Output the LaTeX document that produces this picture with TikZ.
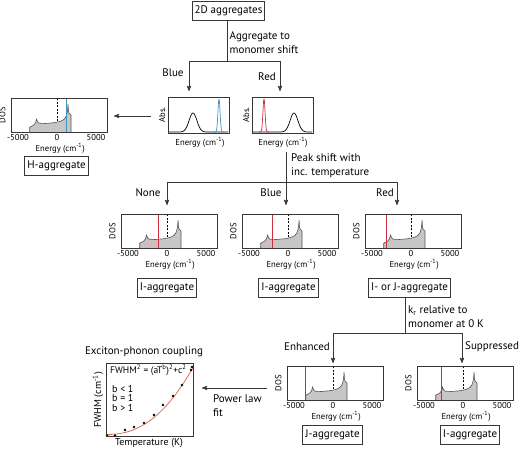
\documentclass[tikz,border=0pt]{standalone}
\usepackage{fontspec}
\setmainfont{PT Sans}
\usetikzlibrary{arrows,positioning,shapes}
\definecolor{lncol}{RGB}{55,55,55}
\definecolor{dosgray}{RGB}{198,198,198}
\definecolor{dospink}{RGB}{208,190,191}
\definecolor{redln}{RGB}{205,45,65}
\definecolor{blueln}{RGB}{70,145,195}
\definecolor{fitcol}{RGB}{225,110,80}
\tikzset{
    %Define standard arrow tip
    >=stealth',
    %Define style for boxes
    box/.style={
           rectangle,
           draw=lncol, line width=0.9pt,
           inner sep=2.5pt,
           minimum height=19pt,
           font=\fontsize{11}{13}\selectfont},
    % Define arrow style
    arr/.style={
           ->,
           draw=lncol,
           line width=0.9pt},
    conn/.style={
           draw=lncol,
           line width=0.9pt},
    lbl/.style={
           font=\fontsize{11}{14}\selectfont,
           align=left,
           inner sep=0pt},
    ticklbl/.style={
           font=\fontsize{8.6}{10}\selectfont,
           align=left,
           inner sep=0pt},
    smalllbl/.style={
           font=\fontsize{10}{10}\selectfont,
           align=left,
           inner sep=0pt},
    frm/.style={
           draw=lncol,
           line width=0.8pt},
    dosln/.style={
           draw=lncol!85,
           line width=0.6pt},
    zeroln/.style={
           draw=black,
           line width=0.7pt,
           dash pattern=on 2pt off 1.5pt}
}
% density of states curve, in plot units
\newcommand{\doscurve}[1]{#1 (-3.5,0) -- (-3.5,0.14) -- (-3.0,0.2) -- (-2.75,0.27) -- (-2.62,0.38) -- (-2.5,0.3) -- (-2.3,0.26) -- (-1.5,0.25) -- (-0.5,0.27) -- (0,0.29) -- (0.5,0.32) -- (0.9,0.37) -- (1.15,0.45) -- (1.3,0.56) -- (1.38,0.7) -- (1.42,0.82) -- (1.47,0.62) -- (1.55,0.55) -- (1.8,0.5) -- (1.8,0);}
% frame and axis labels of a DOS plot
\newcommand{\dosaxes}{
    \draw[frm] (-5.9,0) rectangle (6.4,1);
    \node[ticklbl] at (-5,-0.16) {-5000};
    \node[ticklbl] at (0,-0.16) {0};
    \node[ticklbl] at (5,-0.16) {5000};
    \node[ticklbl] at (0.4,-0.47) {Energy (cm\textsuperscript{-1})};
    \node[ticklbl, rotate=90] at (-7,0.5) {DOS};
}

\begin{document}
\begin{tikzpicture}[x=1pt, y=-1pt]
    \useasboundingbox (0,0) rectangle (520,449);

    % AGGREGATE TO MONOMER SHIFT
    \node[box] (agg2d) at (228.5,10.5) {2D aggregates};
    \coordinate (shift1) at (227,61);
    \coordinate (blueIn) at (189,91);
    \coordinate (redIn) at (280,91);
    \draw[conn] (agg2d.south -| shift1) -- (shift1);
    \draw[arr] (shift1) -| (blueIn);
    \draw[arr] (shift1) -| (redIn);
    \node[lbl, anchor=west] (shiftLbl) at (229.5,43) {Aggregate to\\monomer shift};
    \node[lbl] (blueLbl) at (173,73) {Blue};
    \node[lbl] (redLbl) at (267,77) {Red};

    % absorption spectra
    \draw[dosln, draw=black, line width=0.7pt] plot[domain=169:228, samples=80] (\x, {132-19*exp(-((\x-193)/5.5)^2)});
    \draw[blueln, line width=0.7pt] plot[domain=214:224, samples=40] (\x, {132-33*exp(-((\x-219)/1.5)^2)});
    \draw[frm] (168,97) rectangle (229,133);
    \node[ticklbl, rotate=90] (absLbl1) at (162,115) {Abs.};
    \node[ticklbl] (absE1) at (200,142) {Energy (cm\textsuperscript{-1})};
    \draw[dosln, draw=black, line width=0.7pt] plot[domain=253:312, samples=80] (\x, {132-19*exp(-((\x-294)/5.5)^2)});
    \draw[redln, line width=0.7pt] plot[domain=259:269, samples=40] (\x, {132-33*exp(-((\x-264)/1.5)^2)});
    \draw[frm] (252,97) rectangle (313,133);
    \node[ticklbl, rotate=90] (absLbl2) at (246,115) {Abs.};
    \node[ticklbl] (absE2) at (283,142) {Energy (cm\textsuperscript{-1})};

    % H-AGGREGATE
    \coordinate (absOut) at (151,116);
    \coordinate (hIn) at (114,116);
    \draw[arr] (absOut) -- (hIn);
    \begin{scope}[shift={(57,132)}, x=7.8pt, y=34pt]
        \draw[zeroln] (0,0) -- (0,1);
        \doscurve{\fill[dosgray]}
        \doscurve{\draw[dosln]}
        \draw[blueln, line width=0.8pt] (1.15,0) -- (1.15,1);
        \dosaxes
    \end{scope}
    \node[box] (hagg) at (56.5,166) {H-aggregate};

    % PEAK SHIFT WITH TEMPERATURE
    \coordinate (peakTop) at (286,152);
    \coordinate (shift2) at (286,182);
    \coordinate (noneIn) at (167,205);
    \coordinate (blue2In) at (286,205);
    \coordinate (red2In) at (397,205);
    \draw[arr] (peakTop) -- (blue2In);
    \draw[arr] (shift2) -| (noneIn);
    \draw[arr] (shift2) -| (red2In);
    \node[lbl, anchor=west] (peakLbl) at (291,165.5) {Peak shift with\\inc. temperature};
    \node[lbl] (noneLbl) at (148,193) {None};
    \node[lbl] (blue2Lbl) at (271,193) {Blue};
    \node[lbl] (red2Lbl) at (385,193) {Red};

    % DOS plots with red line
    \foreach \zx/\by/\er in {167/248/-1.1, 288/248/-2.05, 411/248/-3.1, 333/400/-3.5, 463/400/-2.8}{
        \begin{scope}[shift={(\zx,\by)}, x=7.8pt, y=34pt]
            \draw[zeroln] (0,0) -- (0,1);
            \doscurve{\fill[dosgray]}
            \begin{scope}
                \clip (-6,0) rectangle (\er,1);
                \doscurve{\fill[dospink]}
            \end{scope}
            \doscurve{\draw[dosln]}
            \draw[redln, line width=0.8pt] (\er,0) -- (\er,1);
            \dosaxes
        \end{scope}
    }

    \node[box] (iagg1) at (167,288) {I-aggregate};
    \node[box] (iagg2) at (288.5,288) {I-aggregate};
    \node[box] (ijagg) at (409.5,288) {I- or J-aggregate};

    % RADIATIVE RATE
    \coordinate (shift3) at (405,333);
    \coordinate (enhIn) at (333,363);
    \coordinate (supIn) at (462,363);
    \draw[conn] (ijagg.south -| shift3) -- (shift3);
    \draw[arr] (shift3) -| (enhIn);
    \draw[arr] (shift3) -| (supIn);
    \node[lbl, anchor=west] (krLbl) at (408,317) {k\textsubscript{r} relative to\\monomer at 0 K};
    \node[lbl, anchor=east] (enhLbl) at (330,347) {Enhanced};
    \node[lbl, anchor=west] (supLbl) at (465,347) {Suppressed};

    \node[box] (jagg) at (332.5,434.5) {J-aggregate};
    \node[box] (iagg3) at (470,434.5) {I-aggregate};

    % EXCITON-PHONON COUPLING
    \coordinate (jOut) at (267,388);
    \coordinate (fitIn) at (202,388);
    \draw[arr] (jOut) -- (fitIn);
    \node[lbl, anchor=west] (fitLbl) at (213,406) {Power law\\fit};

    \draw[fitcol, line width=0.8pt] plot[domain=0.01:1, samples=50] ({106+87*\x}, {434.5-67*(\x)^2.3});
    \foreach \px/\py in {107/435.5, 115/435.5, 125/430, 134/427, 144/423, 154/415, 163/405, 173/396, 182/385, 191/370, 192/367}
        \fill[black] (\px,\py) circle (1.3);
    \draw[frm] (106,363) rectangle (193,436);
    \node[lbl] (epcLbl) at (144,352) {Exciton-phonon coupling};
    \node[smalllbl] (tempLbl) at (149,443) {Temperature (K)};
    \node[smalllbl, rotate=90] (fwhmLbl) at (98,400) {FWHM (cm\textsuperscript{-1})};
    \node[ticklbl, font=\fontsize{9.5}{10}\selectfont, anchor=west] (eqLbl) at (110,370) {FWHM\textsuperscript{2} = (aT\textsuperscript{b})\textsuperscript{2}+c\textsuperscript{2}};
    \node[smalllbl, anchor=north west, font=\fontsize{10}{9.5}\selectfont] (bLbl) at (112,385) {b < 1\\b = 1\\b > 1};
\end{tikzpicture}
\end{document}
